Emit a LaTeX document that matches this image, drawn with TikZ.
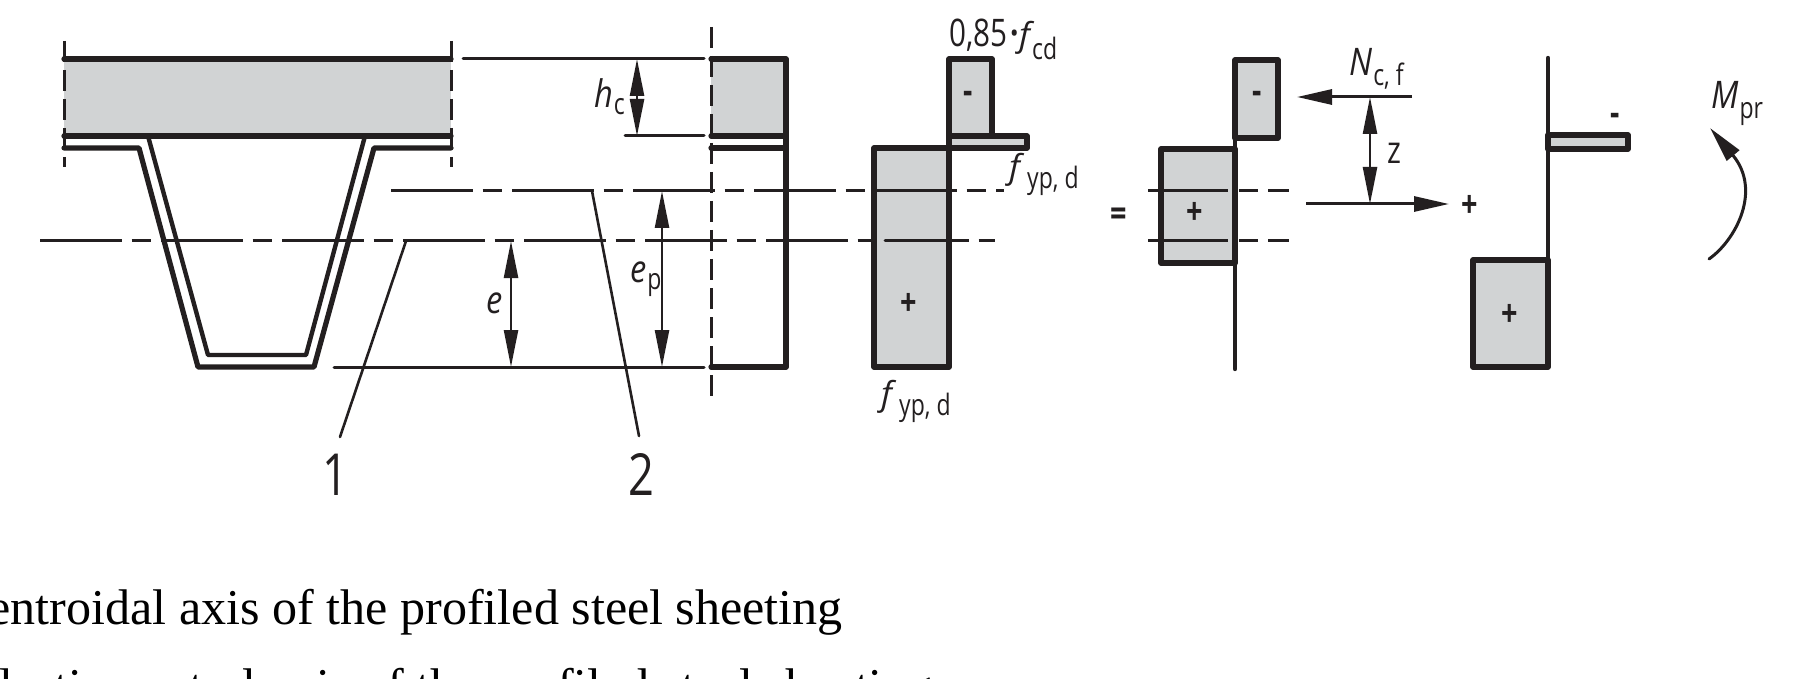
\documentclass[tikz,border=0pt]{standalone}
\usepackage{fontspec}
\usetikzlibrary{arrows.meta}
\setmainfont{Liberation Serif}
\newfontfamily\din[FakeStretch=0.78]{Open Sans}
\definecolor{ink}{HTML}{231F20}
\definecolor{fillgray}{HTML}{D1D3D4}
\newcommand{\subt}[2][8]{\kern1pt\raisebox{-#1pt}{\fontsize{29.5}{29.5}\selectfont #2}}
\newcommand{\ff}{\scalebox{1.35}[1]{\fontsize{33}{33}\selectfont\textit{f}}}
\newcommand{\wideit}[1]{\scalebox{1.1}[1]{\textit{#1}}}
\tikzset{
  x=1pt,y=-1pt,
  heavy/.style={draw=ink,line width=5.2pt,line cap=round,line join=round},
  medium/.style={draw=ink,line width=4.4pt,line cap=round,line join=round},
  thin line/.style={draw=ink,line width=2.6pt,line cap=round},
  block/.style={fill=fillgray,draw=ink,line width=5.2pt,line join=round},
  axisline/.style={draw=ink,line width=3pt,dash pattern=on 82pt off 9.5pt on 19pt off 10.5pt},
  cutline/.style={draw=ink,line width=3pt,dash pattern=on 21pt off 8pt},
  dimarrow/.style={draw=ink,line width=2.4pt,{Triangle[length=37pt,width=14pt,fill=ink]}-{Triangle[length=37pt,width=14pt,fill=ink]}},
  forcearrow/.style={draw=ink,line width=3pt,-{Triangle[length=35pt,width=15pt,fill=ink]}},
  lbl/.style={inner sep=0pt,anchor=base west,text=ink,font=\din\fontsize{38}{38}\selectfont},
  sign/.style={inner sep=0pt,anchor=center,text=ink,font=\din\bfseries\fontsize{37}{37}\selectfont},
  note/.style={inner sep=0pt,anchor=base east,text=black,font=\fontsize{50.1}{50}\selectfont},
}
\begin{document}
\begin{tikzpicture}
\useasboundingbox (0,0) rectangle (1813,679);
\clip (0,0) rectangle (1813,679);
\fill[white] (0,0) rectangle (1813,679);
% slab
\fill[fillgray] (64,59) rectangle (451,136);
\draw[heavy] (64,59) -- (451,59);
\draw[heavy] (64,136) -- (451,136);
% sheeting
\draw[heavy] (64,148) -- (139,148) -- (198,367) -- (314,367) -- (374,148) -- (451,148);
\draw[medium] (148,136) -- (208,355) -- (306,355) -- (365,136);
\draw[cutline] (64,41) -- (64,167);
\draw[cutline] (451,41) -- (451,167);
% axes
\draw[axisline] (40,241) -- (995,241);
\draw[axisline] (391,191) -- (1004,191);
% leaders
\coordinate (a1) at (406,241);
\coordinate (a2) at (592,191);
\node[lbl,anchor=base,font=\din\fontsize{58}{58}\selectfont] (one) at (335,495) {1};
\node[lbl,anchor=base,font=\din\fontsize{58}{58}\selectfont] (two) at (641,495) {2};
\draw[thin line] (a1) -- (340,437);
\draw[thin line] (a2) -- (639,436);
% dimension lines
\draw[thin line,line width=3pt] (463,59) -- (704,59);
\draw[thin line,line width=3pt] (625,136) -- (704,136);
\draw[thin line,line width=3pt] (334,367) -- (704,367);
\draw[dimarrow] (637,59) -- (637,136);
\draw[dimarrow] (511,241) -- (511,367);
\draw[dimarrow] (662,191) -- (662,367);
% section
\fill[fillgray] (711,59) rectangle (786,136);
\draw[heavy] (711,367) -- (786,367) -- (786,59) -- (711,59);
\draw[heavy] (711,136) -- (786,136);
\draw[heavy] (711,148) -- (786,148);
\draw[cutline] (711,27) -- (711,396);
% stress block
\draw[block] (949,59) rectangle (992,136);
\draw[block] (949,136) rectangle (1027,148);
\draw[block] (874,148) rectangle (949,367);
\draw[thin line,line width=3pt] (874,191) -- (949,191);
\draw[thin line,line width=3pt] (885,241) -- (949,241);
\node[sign] (s1) at (968,97) {-};
\node[sign] (s2) at (909,304) {+};
% split block
\draw[block] (1235,60) rectangle (1278,138);
\draw[block] (1161,149) rectangle (1235,263);
\draw[medium] (1235,138) -- (1235,369);
\draw[axisline,dash pattern=on 80pt off 11pt on 19pt off 10pt on 21pt off 100pt] (1148,191) -- (1289,191);
\draw[axisline,dash pattern=on 80pt off 11pt on 19pt off 10pt on 21pt off 100pt] (1148,241) -- (1289,241);
\node[sign] (s3) at (1257,97) {-};
\node[sign] (s4) at (1195,213) {+};
\node[sign] (eq) at (1119,217) {=};
% forces
\coordinate (n1) at (1412,97);
\coordinate (n2) at (1297,97);
\coordinate (t1) at (1306,204);
\coordinate (t2) at (1449,204);
\coordinate (z1) at (1370,97);
\coordinate (z2) at (1370,204);
\draw[forcearrow] (n1) -- (n2);
\draw[forcearrow] (t1) -- (t2);
\draw[dimarrow] (z1) -- (z2);
\node[sign] (s5) at (1470,206) {+};
\node[lbl] (z) at (1387,164) {z};
% right block
\draw[block] (1473,260) rectangle (1548,367);
\draw[block] (1548,135) rectangle (1628,149);
\draw[medium] (1548,58) -- (1548,367);
\node[sign] (s6) at (1615,119) {-};
\node[sign] (s7) at (1510,315) {+};
% moment
\coordinate (m1) at (1709,259);
\coordinate (m2) at (1710,128);
\draw[draw=ink,line width=3pt,line cap=round,-{Triangle[length=36pt,width=16pt,fill=ink]}] (m1) .. controls (1736,240) and (1762,190) .. (m2);
% labels
\node[lbl] (hc) at (594,108) {\wideit{h}\subt[7]{c}};
\node[lbl] (e) at (486,313) {\wideit{e}};
\node[lbl] (ep) at (630,283) {\wideit{e}\subt[6]{p}};
\node[lbl] (fcd) at (949,47) {\makebox[70pt][l]{0,85\hspace{3pt}\textbf{·}}\makebox[12pt][l]{\ff}\subt[13]{cd}};
\node[lbl] (fy1) at (1009,179) {\makebox[17pt][l]{\ff}\subt[10]{yp, d}};
\node[lbl] (fy2) at (881,405) {\makebox[17pt][l]{\ff}\subt[10]{yp, d}};
\node[lbl] (nc) at (1349,76) {\wideit{N}\subt[10]{c, f}};
\node[lbl] (mp) at (1711,109) {\wideit{M}\subt[10]{pr}};
% key
\node[note] (k1) at (843,624) {centroidal axis of the profiled steel sheeting};
\node[note] (k2) at (933,703) {plastic neutral axis of the profiled steel sheeting};
\end{tikzpicture}
\end{document}
